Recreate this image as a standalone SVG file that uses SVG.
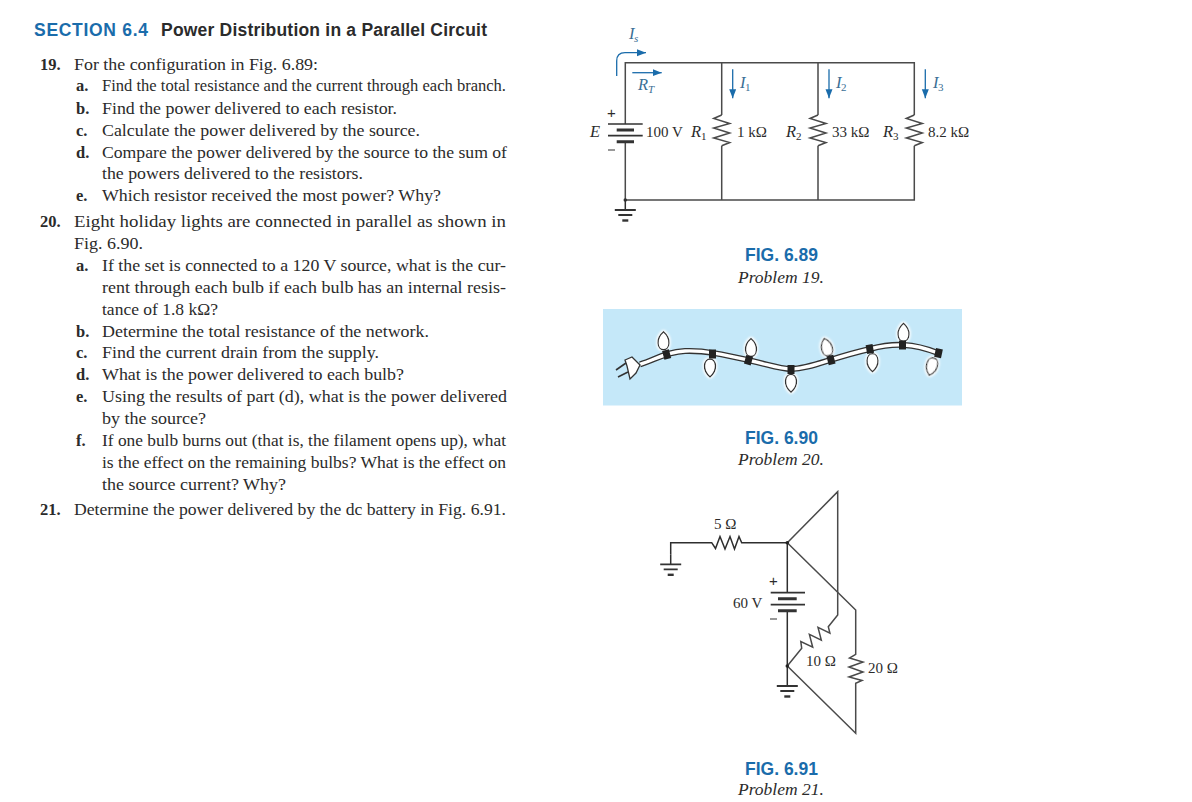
<svg xmlns="http://www.w3.org/2000/svg" width="1192" height="802" viewBox="0 0 1192 802">
<style>
text{font-family:"Liberation Serif","Times New Roman",serif;fill:#2b2b2b}
.t{font-size:17px}
.n{font-size:16.5px;font-weight:bold}
.h{font-family:"Liberation Sans",Arial,sans-serif;font-size:17.5px;font-weight:bold}
.blue{fill:#1a6cab}
.fig{font-family:"Liberation Sans",Arial,sans-serif;font-size:17.500px;font-weight:bold;fill:#1a6cab}
.cap{font-size:17.500px;font-style:italic}
.l{font-size:15px}
.i{font-size:16.500px;font-style:italic}
.s{font-size:11px}
.si{font-size:11px;font-style:italic}
.c{fill:#3a6f95}
.plus{font-family:"Liberation Sans",Arial,sans-serif;font-size:15px}
.w{fill:none;stroke:#4a4a4a;stroke-width:1.500;stroke-linejoin:miter}
.k{fill:none;stroke:#2e2e2e;stroke-width:1.500}
.p{stroke:#333;stroke-width:1.700}
.q{stroke:#333;stroke-width:3}
.a{fill:none;stroke:#1a6cab;stroke-width:1.300}
.bulb{fill:#fff;stroke:#333;stroke-width:1.300;filter:url(#glow)}
.clip{fill:#222}
</style>
<defs>
<marker id="ah" markerUnits="userSpaceOnUse" markerWidth="10" markerHeight="9" refX="9" refY="3.500" orient="auto"><path d="M0 0L9 3.500L0 7z" fill="#1a6cab"/></marker>
<filter id="glow" x="-50%" y="-50%" width="200%" height="200%"><feMorphology in="SourceAlpha" operator="dilate" radius="1" result="d"/><feGaussianBlur in="d" stdDeviation="1.200" result="b"/><feFlood flood-color="#fff"/><feComposite in2="b" operator="in"/><feMerge><feMergeNode/><feMergeNode in="SourceGraphic"/></feMerge></filter>
<path id="bulbshape" d="M0 -10.500C3.500 -7.500 5.800 -3.500 5.500 1C5.200 5 2.800 7.500 0 7.500C-2.800 7.500 -5.200 5 -5.500 1C-5.800 -3.500 -3.500 -7.500 0 -10.500Z"/>
<g id="gnd"><path class="k" d="M0 0V10"/><path d="M-10.500 10H10.500M-7 15H7" stroke="#333" stroke-width="1.800"/><path d="M-3 20.500H3" stroke="#333" stroke-width="2.400"/></g>
</defs>
<rect width="1192" height="802" fill="#fff"/>

<g id="problems" transform="translate(0 0.800)">
<text class="h blue" x="34" y="35" textLength="114">SECTION 6.4</text>
<text class="h" x="161" y="35" textLength="326">Power Distribution in a Parallel Circuit</text>
<text class="n" x="40" y="69">19.</text><text class="t" x="74" y="69" textLength="244" lengthAdjust="spacingAndGlyphs">For the configuration in Fig. 6.89:</text>
<text class="n" x="76" y="90">a.</text><text class="t" x="102" y="90" textLength="404" lengthAdjust="spacingAndGlyphs">Find the total resistance and the current through each branch.</text>
<text class="n" x="76" y="113">b.</text><text class="t" x="102" y="113" textLength="295" lengthAdjust="spacingAndGlyphs">Find the power delivered to each resistor.</text>
<text class="n" x="76" y="135">c.</text><text class="t" x="102" y="135" textLength="318" lengthAdjust="spacingAndGlyphs">Calculate the power delivered by the source.</text>
<text class="n" x="76" y="157">d.</text><text class="t" x="102" y="157" textLength="405" lengthAdjust="spacingAndGlyphs">Compare the power delivered by the source to the sum of</text>
<text class="t" x="102" y="178" textLength="261" lengthAdjust="spacingAndGlyphs">the powers delivered to the resistors.</text>
<text class="n" x="76" y="200">e.</text><text class="t" x="102" y="200" textLength="339" lengthAdjust="spacingAndGlyphs">Which resistor received the most power? Why?</text>
<text class="n" x="40" y="226">20.</text><text class="t" x="74" y="226" textLength="432" lengthAdjust="spacingAndGlyphs">Eight holiday lights are connected in parallel as shown in</text>
<text class="t" x="74" y="248" textLength="69" lengthAdjust="spacingAndGlyphs">Fig. 6.90.</text>
<text class="n" x="76" y="270">a.</text><text class="t" x="102" y="270" textLength="404" lengthAdjust="spacingAndGlyphs">If the set is connected to a 120 V source, what is the cur-</text>
<text class="t" x="102" y="292" textLength="404" lengthAdjust="spacingAndGlyphs">rent through each bulb if each bulb has an internal resis-</text>
<text class="t" x="102" y="314" textLength="116" lengthAdjust="spacingAndGlyphs">tance of 1.8 kΩ?</text>
<text class="n" x="76" y="336">b.</text><text class="t" x="102" y="336" textLength="327" lengthAdjust="spacingAndGlyphs">Determine the total resistance of the network.</text>
<text class="n" x="76" y="357">c.</text><text class="t" x="102" y="357" textLength="277" lengthAdjust="spacingAndGlyphs">Find the current drain from the supply.</text>
<text class="n" x="76" y="379">d.</text><text class="t" x="102" y="379" textLength="302" lengthAdjust="spacingAndGlyphs">What is the power delivered to each bulb?</text>
<text class="n" x="76" y="401">e.</text><text class="t" x="102" y="401" textLength="405" lengthAdjust="spacingAndGlyphs">Using the results of part (d), what is the power delivered</text>
<text class="t" x="102" y="423" textLength="104" lengthAdjust="spacingAndGlyphs">by the source?</text>
<text class="n" x="76" y="445">f.</text><text class="t" x="102" y="445" textLength="404" lengthAdjust="spacingAndGlyphs">If one bulb burns out (that is, the filament opens up), what</text>
<text class="t" x="102" y="467" textLength="404" lengthAdjust="spacingAndGlyphs">is the effect on the remaining bulbs? What is the effect on</text>
<text class="t" x="102" y="489" textLength="184" lengthAdjust="spacingAndGlyphs">the source current? Why?</text>
<text class="n" x="40" y="514">21.</text><text class="t" x="74" y="514" textLength="432" lengthAdjust="spacingAndGlyphs">Determine the power delivered by the dc battery in Fig. 6.91.</text>
</g>

<g id="fig689-wires">
<path class="w" d="M625.300 124V62.700H914.300V115M914.300 145.700V200H625.300V141.700M721.700 62.700V115M721.700 145.700V200M818 62.700V115M818 145.700V200"/>
<path class="w" d="M721.700 115L713.700 118.500L729.700 123.500L713.700 128L729.700 133L713.700 138L729.700 142.500L721.700 145.700M818 115L810 118.500L826 123.500L810 128L826 133L810 138L826 142.500L818 145.700M914.300 115L906.300 118.500L922.300 123.500L906.300 128L922.300 133L906.300 138L922.300 142.500L914.300 145.700"/>
<circle cx="625.300" cy="200" r="1.800" fill="#333"/>
</g>
<g id="fig689-battery">
<path class="p" d="M608 124H642.700M608 135.700H642.700"/><path class="q" d="M616.700 130H634M616.700 141.700H634"/>
<text class="plus" x="607" y="118">+</text>
<path d="M608 150H615" stroke="#555" stroke-width="1.200"/>
<text class="i" x="590" y="136.500">E</text><text class="l" x="646" y="136.500">100 V</text>
</g>
<use href="#gnd" x="625.300" y="200"/>
<g id="fig689-labels">
<text class="i" x="691" y="136.500">R</text><text class="s" x="701" y="139.500">1</text><text class="l" x="737" y="136.500">1 kΩ</text>
<text class="i" x="786" y="136.500">R</text><text class="s" x="796" y="139.500">2</text><text class="l" x="832" y="136.500">33 kΩ</text>
<text class="i" x="883" y="136.500">R</text><text class="s" x="893" y="139.500">3</text><text class="l" x="928" y="136.500">8.2 kΩ</text>
</g>
<g id="fig689-currents">
<path class="a" marker-end="url(#ah)" d="M616.700 76V61Q616.700 52.700 625 52.700H646"/>
<path class="a" marker-end="url(#ah)" d="M632.300 72.700H661.700"/>
<path class="a" marker-end="url(#ah)" d="M732.700 69.300V98.300"/>
<path class="a" marker-end="url(#ah)" d="M829 69.300V98.300"/>
<path class="a" marker-end="url(#ah)" d="M925.300 69.300V98.300"/>
<text class="i c" x="629" y="39">I</text><text class="si c" x="634" y="42">s</text>
<text class="i c" x="638" y="90">R</text><text class="si c" x="648" y="93">T</text>
<text class="i c" x="740" y="88">I</text><text class="s c" x="745" y="91">1</text>
<text class="i c" x="836" y="88">I</text><text class="s c" x="841" y="91">2</text>
<text class="i c" x="933" y="88">I</text><text class="s c" x="938" y="91">3</text>
</g>
<text class="fig" x="745" y="260.500">FIG. 6.89</text>
<text class="cap" x="738" y="282.500">Problem 19.</text>

<g id="fig690">
<rect x="603" y="309" width="359" height="96.500" fill="#c5e8f9"/>
<g id="bulbs">
<use href="#bulbshape" class="bulb" transform="translate(663.500 342.200)"/>
<use href="#bulbshape" class="bulb" transform="translate(710 366.500) rotate(180)"/>
<use href="#bulbshape" class="bulb" transform="translate(751 349)"/>
<use href="#bulbshape" class="bulb" transform="translate(791 381.800) rotate(180)"/>
<use href="#bulbshape" class="bulb" transform="translate(827 348.500) rotate(-15)"/>
<use href="#bulbshape" class="bulb" transform="translate(872.500 361.200) rotate(180)"/>
<use href="#bulbshape" class="bulb" transform="translate(903.500 333.800)"/>
<use href="#bulbshape" class="bulb" transform="translate(932 365.200) rotate(195)"/>
</g>
<path d="M640 364.300C655 360 665 352 685 351C705 350 730 356 750 360.500C770 365 780 369 791 369C810 369 830 358 870 349C885 345 895 344.500 904 345C915 345.500 925 348 938 353" fill="none" stroke="#333" stroke-width="6"/>
<path d="M640 364.300C655 360 665 352 685 351C705 350 730 356 750 360.500C770 365 780 369 791 369C810 369 830 358 870 349C885 345 895 344.500 904 345C915 345.500 925 348 938 353" fill="none" stroke="#fff" stroke-width="3.400"/>
<g class="clip">
<rect x="663" y="350" width="7" height="9" transform="rotate(-15 666.500 354)"/>
<rect x="709" y="349.500" width="7" height="9"/>
<rect x="745" y="355.500" width="7" height="9" transform="rotate(15 748 360)"/>
<rect x="787.500" y="365" width="7" height="9"/>
<rect x="827.500" y="355.500" width="7" height="9" transform="rotate(-15 831 360)"/>
<rect x="866.500" y="344.500" width="7" height="9" transform="rotate(-10 870 350)"/>
<rect x="899" y="340.500" width="7" height="9"/>
<rect x="935" y="348.500" width="7" height="9" transform="rotate(12 938 353)"/>
</g>
<g id="plug">
<path d="M640 365L632 357L625 360L627 366L630 379L636 373Z" fill="#fff" stroke="#333" stroke-width="1.300"/>
<path d="M626 363L616 370M628 372L618 377" stroke="#333" stroke-width="1.600"/>
</g>
</g>
<text class="fig" x="745" y="443.500">FIG. 6.90</text>
<text class="cap" x="738" y="464.500">Problem 20.</text>

<g id="fig691-wires">
<path class="k" d="M670.700 554.300V542.700H711.700L715.500 548.500L720 536.500L725 549L730 536.500L734.500 549L739 536.500L741.700 542.700H787.300V592.700M787.300 610.700V676"/>
<path class="w" d="M787.300 542.700L837.700 491.700V615L828.300 626.700L829.900 633.100L818 627.400L821.300 640.100L809.400 634.400L812.700 647.200L800.800 641.500L801.700 648.300L787.300 666"/>
<path class="w" d="M787.300 542.700L855.700 610V654.300L849.500 658L863 662L849 667L863 672L849 677L862 680.500L855.700 683.300V733.300L787.300 666"/>
<circle cx="787.300" cy="542.700" r="1.800" fill="#222"/><circle cx="787.300" cy="666" r="1.800" fill="#222"/>
</g>
<g id="fig691-battery">
<path class="p" d="M770.700 592.700H805M770.700 604.700H805"/><path class="q" d="M778 598.700H796.700M778 610.700H796.700"/>
<text class="plus" x="769" y="586">+</text>
<path d="M770 619H777" stroke="#555" stroke-width="1.200"/>
</g>
<use href="#gnd" x="670.700" y="554.300"/>
<use href="#gnd" x="787.300" y="676"/>
<g id="fig691-labels">
<text class="l" x="714" y="528.500">5 Ω</text>
<text class="l" x="733" y="607.500">60 V</text>
<text class="l" x="806" y="665.500">10 Ω</text>
<text class="l" x="868" y="672.500">20 Ω</text>
</g>
<text class="fig" x="745" y="774.500">FIG. 6.91</text>
<text class="cap" x="738" y="794.500">Problem 21.</text>
</svg>
